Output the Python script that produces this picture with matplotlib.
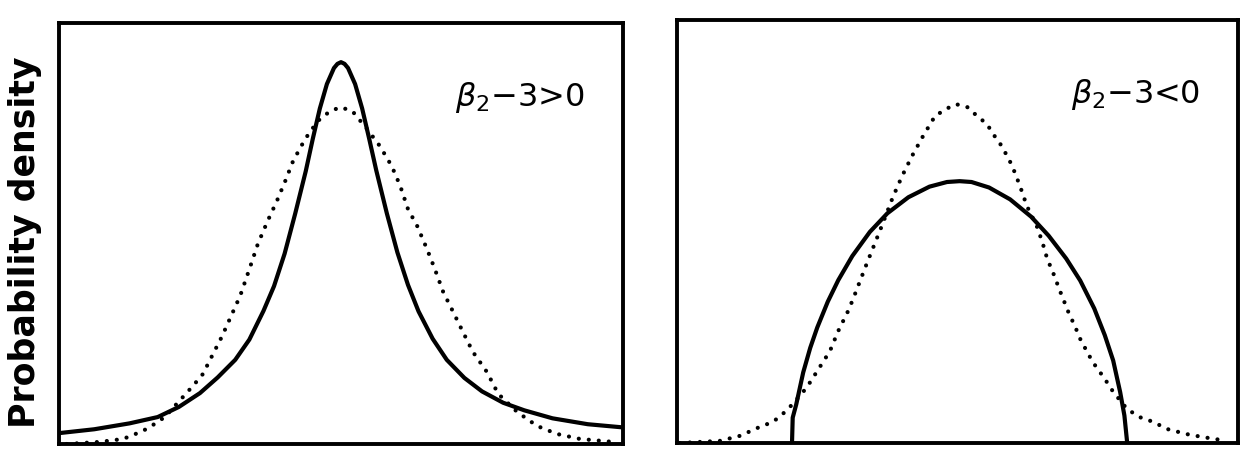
import matplotlib
matplotlib.use("Agg")
import matplotlib.pyplot as plt

plt.rcParams['font.family'] = ['DejaVu Sans']
plt.rcParams['mathtext.fontset'] = 'dejavusans'

# ---- Left panel (beta2 - 3 > 0): leptokurtic (solid) vs normal (dotted)
lep_x = [-3.99, -3.50, -3.00, -2.60, -2.30, -2.00, -1.75, -1.50, -1.30, -1.10,
         -0.95, -0.80, -0.65, -0.50, -0.40, -0.30, -0.20, -0.10, -0.05, 0.00,
         0.05, 0.10, 0.20, 0.30, 0.40, 0.50, 0.65, 0.80, 0.95, 1.10, 1.30,
         1.50, 1.75, 2.00, 2.30, 2.60, 3.00, 3.50, 3.96]
lep_y = [0.026, 0.035, 0.049, 0.064, 0.088, 0.121, 0.158, 0.200, 0.248, 0.316,
         0.375, 0.452, 0.547, 0.648, 0.725, 0.797, 0.855, 0.893, 0.903, 0.907,
         0.903, 0.893, 0.855, 0.797, 0.725, 0.650, 0.548, 0.455, 0.378, 0.315,
         0.250, 0.200, 0.157, 0.125, 0.098, 0.080, 0.061, 0.047, 0.040]

norm1_x = [-3.89, -3.42, -3.09, -2.81, -2.64, -2.50, -2.24, -2.10, -1.96, -1.83,
           -1.69, -1.43, -1.29, -1.18, -1.04, -0.91, -0.79, -0.68, -0.51, -0.33,
           -0.16, -0.01, 0.16, 0.37, 0.55, 0.72, 0.84, 0.95, 1.08, 1.22, 1.33,
           1.45, 1.59, 1.73, 1.87, 2.07, 2.23, 2.50, 2.78, 3.06, 3.39, 3.86]
norm1_y = [0.000, 0.005, 0.012, 0.031, 0.048, 0.064, 0.112, 0.138, 0.166, 0.209,
           0.255, 0.352, 0.420, 0.475, 0.530, 0.577, 0.625, 0.672, 0.724, 0.767,
           0.790, 0.800, 0.791, 0.748, 0.708, 0.660, 0.613, 0.558, 0.518, 0.463,
           0.416, 0.361, 0.314, 0.266, 0.219, 0.171, 0.119, 0.076, 0.043, 0.024,
           0.012, 0.005]

# ---- Right panel (beta2 - 3 < 0): platykurtic (solid) vs normal (dotted)
platy_x = [-2.36, -2.35, -2.30, -2.20, -2.10, -2.00, -1.85, -1.70, -1.50, -1.25,
           -1.00, -0.70, -0.40, -0.15, 0.03, 0.20, 0.45, 0.75, 1.05, 1.30, 1.55,
           1.75, 1.95, 2.10, 2.22, 2.32, 2.38, 2.42]
platy_y = [0.000, 0.060, 0.091, 0.167, 0.225, 0.273, 0.334, 0.385, 0.442, 0.499,
           0.543, 0.581, 0.606, 0.617, 0.619, 0.617, 0.604, 0.576, 0.535, 0.490,
           0.436, 0.384, 0.318, 0.255, 0.195, 0.120, 0.065, 0.000]

norm2_x = [-3.96, -3.39, -3.10, -2.82, -2.63, -2.49, -2.35, -2.20, -2.10, -1.92,
           -1.82, -1.70, -1.56, -1.49, -1.39, -1.28, -1.21, -1.08, -0.92, -0.79,
           -0.65, -0.49, -0.32, -0.16, -0.02, 0.14, 0.28, 0.42, 0.51, 0.61, 0.71,
           0.78, 0.89, 0.99, 1.13, 1.21, 1.28, 1.36, 1.46, 1.58, 1.68, 1.75, 1.85,
           1.93, 2.03, 2.13, 2.22, 2.42, 2.60, 2.79, 2.99, 3.27, 3.50, 3.84]
norm2_y = [0.000, 0.005, 0.017, 0.038, 0.050, 0.069, 0.092, 0.121, 0.144, 0.191,
           0.217, 0.265, 0.312, 0.340, 0.383, 0.430, 0.459, 0.513, 0.582, 0.631,
           0.678, 0.726, 0.773, 0.790, 0.801, 0.794, 0.773, 0.754, 0.730, 0.707,
           0.678, 0.655, 0.608, 0.560, 0.513, 0.475, 0.435, 0.404, 0.360, 0.310,
           0.274, 0.246, 0.215, 0.191, 0.168, 0.144, 0.121, 0.080, 0.061, 0.050,
           0.033, 0.021, 0.014, 0.005]

ylabel = "Probability density"
labels = [r"$\beta_2$−3>0", r"$\beta_2$−3<0"]

fig = plt.figure(figsize=(12.6, 4.6), dpi=100)
ax1 = fig.add_axes([59 / 1260, 15 / 460, 564 / 1260, 421 / 460])
ax2 = fig.add_axes([677 / 1260, 16 / 460, 561 / 1260, 423 / 460])

dot_style = dict(color='black', linewidth=3.0, linestyle=(0, (0.01, 2.4)),
                 dash_capstyle='round', solid_capstyle='round')
solid_style = dict(color='black', linewidth=3.0, solid_joinstyle='round')

ax1.plot(norm1_x, norm1_y, **dot_style)
ax1.plot(lep_x, lep_y, **solid_style)
ax2.plot(norm2_x, norm2_y, **dot_style)
ax2.plot(platy_x, platy_y, **solid_style)

for ax, lab in zip([ax1, ax2], labels):
    ax.set_xlim(-4, 4)
    ax.set_ylim(0, 1)
    ax.set_xticks([])
    ax.set_yticks([])
    for sp in ax.spines.values():
        sp.set_linewidth(2.8)
    ax.text(0.703, 0.805, lab, transform=ax.transAxes, fontsize=23,
            ha='left', va='baseline')

fig.text(25 / 1260, 1 - 242 / 460, ylabel, rotation=90, fontsize=25,
         fontweight='bold', ha='center', va='center')

fig.savefig("out.png", dpi=100)
